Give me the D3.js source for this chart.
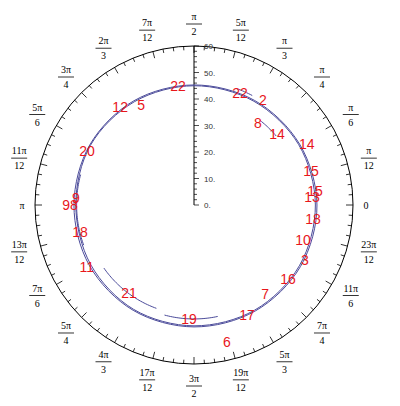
<!DOCTYPE html>
<html><head><meta charset="utf-8">
<script src="https://cdn.jsdelivr.net/npm/d3@7"></script>
<style>body{margin:0;background:#fff}svg{display:block}</style>
</head><body><div id="chart"></div>
<script>
var w = 400, h = 406;
var cx = 194, cy = 205, R = 159;

// radial axis ticks
var rTicks = [0, 10, 20, 30, 40, 50, 60];
// angle labels (multiples of pi/12)
var angNum = ["0","\u03C0","\u03C0","\u03C0","\u03C0","5\u03C0","\u03C0","7\u03C0","2\u03C0","3\u03C0","5\u03C0","11\u03C0","\u03C0","13\u03C0","7\u03C0","5\u03C0","4\u03C0","17\u03C0","3\u03C0","19\u03C0","5\u03C0","7\u03C0","11\u03C0","23\u03C0"];
var angDen = ["","12","6","4","3","12","2","12","3","4","6","12","","12","6","4","3","12","2","12","3","4","6","12"];

// main curve: angle (deg) knots and radius
var curveAng = [0, 30, 60, 90, 120, 150, 180, 210, 240, 270, 300, 330, 360];
var curveR1 = [46.4, 46.0, 45.6, 45.3, 45.4, 45.4, 45.3, 45.6, 45.9, 46.0, 46.2, 46.4, 46.4];
var curveR2 = [45.8, 45.6, 45.2, 45.0, 45.0, 45.1, 44.6, 45.0, 45.5, 45.6, 45.8, 45.9, 45.8];

// partial arcs: start angle, end angle (deg), radius
var arcStart = [40, 215, 255, 165, 62];
var arcEnd = [52, 250, 282, 200, 70];
var arcR = [40.5, 41.5, 43.0, 44.3, 46.8];

// red labels
var labText = ["22","22","2","12","5","8","14","14","20","15","15","13","9","98","18","18","10","3","16","11","21","7","19","17","6"];
var labAng = [97.7,67.7,56.7,127,117.9,52,40.5,28.4,153.2,16.2,6.6,3.9,176.6,180,193.3,-6.7,-17.8,-26.4,-38.2,210,233.6,-51.4,267.5,-64.3,-76.5];
var labR = [45.3,45.7,47.4,46.3,42.7,39.2,41.2,48.4,45.2,46,46,44.6,44.6,46.8,44.2,45.2,43.2,46.7,45.1,46.7,41.3,43,43,46.1,53.2];

var svg = d3.select("#chart").append("svg").attr("width", w).attr("height", h);
var r = d3.scaleLinear().domain([0, 60]).range([0, R]);
var rad = function(d) { return d * Math.PI / 180; };
function px(a, v) { return cx + r(v) * Math.cos(rad(a)); }
function py(a, v) { return cy - r(v) * Math.sin(rad(a)); }

// outer circle + angular ticks
svg.append("circle").attr("cx", cx).attr("cy", cy).attr("r", R)
  .attr("fill", "none").attr("stroke", "#000").attr("stroke-width", 1);
var tk = d3.range(0, 360, 3.75);
svg.selectAll(".atk").data(tk).enter().append("line")
  .attr("x1", function(a) { return cx + R * Math.cos(rad(a)); })
  .attr("y1", function(a) { return cy - R * Math.sin(rad(a)); })
  .attr("x2", function(a) { var l = a % 15 === 0 ? 7 : 4; return cx + (R - l) * Math.cos(rad(a)); })
  .attr("y2", function(a) { var l = a % 15 === 0 ? 7 : 4; return cy - (R - l) * Math.sin(rad(a)); })
  .attr("stroke", "#000").attr("stroke-width", 0.8);

// angle labels
var al = svg.selectAll(".al").data(angNum).enter().append("g")
  .attr("transform", function(d, i) {
    var a = i * 15, rr = angDen[i] ? 181 : 172;
    return "translate(" + (cx + rr * Math.cos(rad(a))) + "," + (cy - rr * Math.sin(rad(a))) + ")";
  })
  .style("font-family", "Liberation Serif, serif").style("font-size", "10px");
al.append("text").attr("text-anchor", "middle")
  .attr("y", function(d, i) { return angDen[i] ? -4 : 4; })
  .text(function(d) { return d; });
al.filter(function(d, i) { return angDen[i]; }).append("line")
  .attr("x1", -8).attr("x2", 8).attr("y1", 0).attr("y2", 0).attr("stroke", "#000").attr("stroke-width", 0.8);
al.append("text").attr("text-anchor", "middle").attr("y", 11)
  .text(function(d, i) { return angDen[i]; });

// radial axis
var yAx = d3.scaleLinear().domain([0, 60]).range([cy, cy - R]);
svg.append("line").attr("x1", cx).attr("x2", cx).attr("y1", cy).attr("y2", cy - R).attr("stroke", "#000");
svg.selectAll(".rt").data(d3.range(0, 61, 2)).enter().append("line")
  .attr("x1", cx).attr("x2", function(d) { return cx + (d % 10 === 0 ? 5 : 3); })
  .attr("y1", function(d) { return yAx(d); }).attr("y2", function(d) { return yAx(d); })
  .attr("stroke", "#000").attr("stroke-width", 0.7);
svg.selectAll(".rl").data(rTicks).enter().append("text")
  .attr("x", cx + 10).attr("y", function(d) { return yAx(d) + 3; })
  .style("font-family", "Liberation Sans, sans-serif").style("font-size", "8px").attr("fill", "#333")
  .text(function(d) { return d + "."; });

// curves
var line = d3.lineRadial().curve(d3.curveCatmullRomClosed)
  .angle(function(d) { return rad(90 - d[0]); }).radius(function(d) { return r(d[1]); });
[curveR1, curveR2].forEach(function(arr) {
  var pts = curveAng.slice(0, -1).map(function(a, i) { return [a, arr[i]]; });
  svg.append("path").attr("transform", "translate(" + cx + "," + cy + ")")
    .attr("d", line(pts)).attr("fill", "none").attr("stroke", "#4b4b9a").attr("stroke-width", 1);
});
var arc = d3.lineRadial().angle(function(d) { return rad(90 - d[0]); }).radius(function(d) { return r(d[1]); });
arcStart.forEach(function(s, i) {
  var pts = d3.range(s, arcEnd[i] + 0.1, 1).map(function(a) { return [a, arcR[i]]; });
  svg.append("path").attr("transform", "translate(" + cx + "," + cy + ")")
    .attr("d", arc(pts)).attr("fill", "none").attr("stroke", "#4b4b9a").attr("stroke-width", 1);
});

// labels
svg.selectAll(".lab").data(labText).enter().append("text")
  .attr("x", function(d, i) { return px(labAng[i], labR[i]); })
  .attr("y", function(d, i) { return py(labAng[i], labR[i]) + 5; })
  .attr("text-anchor", "middle").attr("fill", "#e8161b")
  .style("font-family", "Liberation Sans, sans-serif").style("font-size", "14px")
  .text(function(d) { return d; });
</script></body></html>
